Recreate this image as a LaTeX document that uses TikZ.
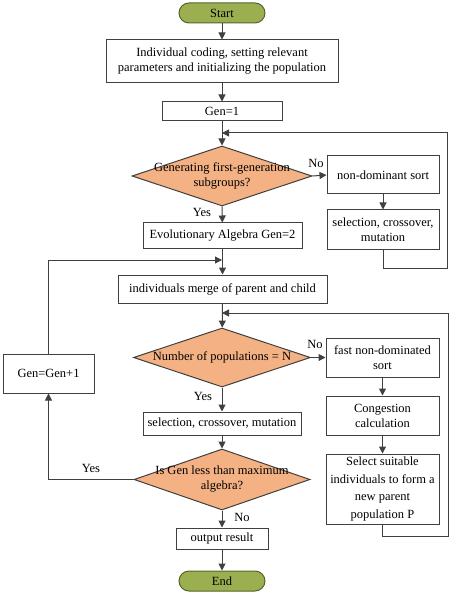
\documentclass[tikz,border=0pt]{standalone}
\usepackage{fontspec}
\setmainfont{Liberation Serif}
\usetikzlibrary{shapes.geometric,arrows.meta}
\definecolor{lc}{HTML}{404040}
\definecolor{term}{HTML}{9BAF50}
\definecolor{termb}{HTML}{55652A}
\definecolor{dia}{HTML}{F4B183}
\begin{document}
\begin{tikzpicture}[x=1pt,y=-1pt,
  every node/.style={font=\fontsize{12.5}{15}\selectfont, text=black},
  box/.style={draw=lc, line width=1pt, fill=white, rectangle, inner sep=0pt, align=center},
  termbox/.style={draw=termb, line width=1pt, fill=term, rectangle, rounded corners=10pt, inner sep=0pt, minimum width=86pt, minimum height=20pt},
  dec/.style={draw=lc, line width=1pt, fill=dia, diamond, inner sep=0pt},
  conn/.style={draw=lc, line width=1pt},
  arr/.style={conn, -{Triangle[length=7pt,width=7pt]}},
  lab/.style={inner sep=0pt, font=\fontsize{12.5}{15}\selectfont}
]
\useasboundingbox (0,0) rectangle (474,593);
% main column
\node[termbox] (start) at (222,13) {Start};
\node[box, minimum width=232pt, minimum height=43pt] (init) at (222,61.5) {Individual coding, setting relevant\\parameters and initializing the population};
\node[box, minimum width=120pt, minimum height=19pt] (gen1) at (222,111.5) {Gen=1};
\node[dec, minimum width=180pt, minimum height=60pt] (d1) at (222,176) {};
\node[align=center, inner sep=0pt] (d1t) at (222,176) {Generating first-generation\\subgroups?};
\node[box, minimum width=159pt, minimum height=25pt] (evo) at (222.5,235.5) {Evolutionary Algebra Gen=2};
\node[box, minimum width=209pt, minimum height=28pt] (merge) at (222.5,289) {individuals merge of parent and child};
\node[dec, minimum width=177pt, minimum height=59pt] (d2) at (222,357.5) {};
\node[inner sep=0pt] (d2t) at (222,357.5) {Number of populations = N};
\node[box, minimum width=158pt, minimum height=23pt] (sel2) at (222,423.5) {selection, crossover, mutation};
\node[dec, minimum width=176pt, minimum height=61pt] (d3) at (222,479.5) {};
\node[align=center, inner sep=0pt] (d3t) at (222,479.5) {Is Gen less than maximum\\algebra?};
\node[box, minimum width=92pt, minimum height=21pt] (out) at (222,538.5) {output result};
\node[termbox] (end) at (222,581) {End};
% right column
\node[box, minimum width=112pt, minimum height=38pt] (nds) at (383,175) {non-dominant sort};
\node[box, minimum width=112pt, minimum height=39pt] (sel1) at (383,229.5) {selection, crossover,\\mutation};
\node[box, minimum width=113pt, minimum height=39pt] (fnds) at (382.5,357.5) {fast non-dominated\\sort};
\node[box, minimum width=113pt, minimum height=39pt] (cong) at (382.5,415.5) {Congestion\\calculation};
\node[box, minimum width=113pt, minimum height=70pt, font=\fontsize{12.5}{17.5}\selectfont] (selp) at (382.5,489) {Select suitable\\individuals to form a\\new parent\\population P};
% left
\node[box, minimum width=91pt, minimum height=39pt] (inc) at (48.5,373.5) {Gen=Gen+1};
% coordinates
\coordinate (j1) at (222,133);
\coordinate (j2) at (222,260);
\coordinate (j3) at (222,313);
\coordinate (c1) at (383,268);
\coordinate (c2) at (447,268);
\coordinate (c3) at (447,133);
\coordinate (e1) at (382.5,536);
\coordinate (e2) at (448,536);
\coordinate (e3) at (448,313);
\coordinate (g1) at (48.5,260);
\coordinate (g2) at (48.5,479.5);
% connectors
\draw[arr] (start) -- (init);
\draw[arr] (init) -- (gen1);
\draw[arr] (gen1) -- (d1);
\draw[arr] (d1.east) -- (nds.west);
\draw[arr] (nds) -- (sel1);
\draw[arr] (sel1.south) -- (c1) -- (c2) -- (c3) -- (j1);
\draw[arr] (d1.south) -- (evo);
\draw[arr] (evo) -- (merge);
\draw[arr] (inc.north) -- (g1) -- (j2);
\draw[arr] (merge) -- (d2);
\draw[arr] (d2.east) -- (fnds.west);
\draw[arr] (fnds) -- (cong);
\draw[arr] (cong) -- (selp);
\draw[arr] (selp.south) -- (e1) -- (e2) -- (e3) -- (j3);
\draw[arr] (d2.south) -- (sel2);
\draw[arr] (sel2) -- (d3);
\draw[arr] (d3.west) -- (g2) -- (inc.south);
\draw[arr] (d3.south) -- (out);
\draw[arr] (out) -- (end);
% labels
\node[lab] (l1) at (316,163) {No};
\node[lab] (l2) at (202,212) {Yes};
\node[lab] (l3) at (315,344) {No};
\node[lab] (l4) at (203,396) {Yes};
\node[lab] (l5) at (91,468) {Yes};
\node[lab] (l6) at (242,517) {No};
\end{tikzpicture}
\end{document}
